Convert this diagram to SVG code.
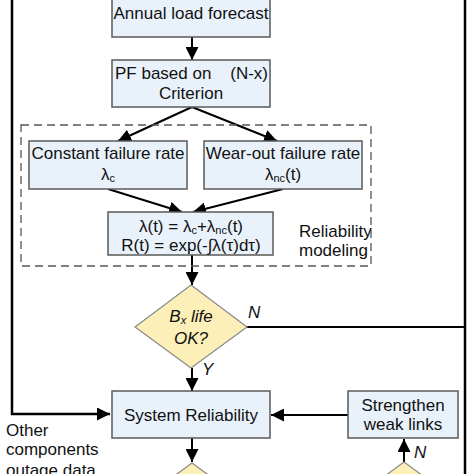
<svg xmlns="http://www.w3.org/2000/svg" width="474" height="474" viewBox="0 0 474 474">
<style>
.box{fill:#e9f2fb;stroke:#5a5a5a;stroke-width:1.5}
.dia{fill:#fcefb8;stroke:#8a8a8a;stroke-width:1.2}
.t{font-family:"Liberation Sans",Arial,sans-serif;font-size:17px;fill:#111;text-anchor:middle}
.l{font-family:"Liberation Sans",Arial,sans-serif;font-size:17px;fill:#111}
.i{font-style:italic}
.c{fill:none;stroke:#000;stroke-width:2}
.o{fill:none;stroke:#000;stroke-width:2.5}
</style>
<defs>
<marker id="ah" viewBox="0 0 10 10" refX="10" refY="5" markerWidth="13" markerHeight="13" markerUnits="userSpaceOnUse" orient="auto">
<path d="M0,0 L10,5 L0,10 z" fill="#000"/>
</marker>
</defs>
<g id="connectors">
<path class="o" d="M12,0 V414 H110" marker-end="url(#ah)"/>
<path class="o" d="M465,0 V474"/>
<path class="c" d="M247,327 H465"/>
<path class="c" d="M192,37 V60" marker-end="url(#ah)"/>
<path class="c" d="M192,107 L118,141" marker-end="url(#ah)"/>
<path class="c" d="M192,107 L277,141" marker-end="url(#ah)"/>
<path class="c" d="M108,189 L182,212" marker-end="url(#ah)"/>
<path class="c" d="M283,189 L193,212" marker-end="url(#ah)"/>
<path class="c" d="M192,255 V285" marker-end="url(#ah)"/>
<path class="c" d="M192,368 V391" marker-end="url(#ah)"/>
<path class="c" d="M348,415 H271" marker-end="url(#ah)"/>
<path class="c" d="M192,438 V462" marker-end="url(#ah)"/>
<path class="c" d="M404,462 V439" marker-end="url(#ah)"/>
</g>
<g id="reliability-modeling">
<rect x="21" y="125" width="350" height="141" fill="none" stroke="#555" stroke-width="1.3" stroke-dasharray="8,5"/>
<text class="l" x="299" y="237">Reliability</text>
<text class="l" x="299" y="256">modeling</text>
</g>
<g id="annual-load">
<rect class="box" x="112" y="-10" width="158" height="47"/>
<text class="t" x="191" y="19">Annual load forecast</text>
</g>
<g id="pf">
<rect class="box" x="112" y="60" width="158" height="47"/>
<text class="l" x="115" y="79">PF based on</text>
<text class="l" x="268" y="79" text-anchor="end">(N-x)</text>
<text class="t" x="191" y="99">Criterion</text>
</g>
<g id="constant">
<rect class="box" x="29" y="141" width="158" height="48"/>
<text class="t" x="108" y="159">Constant failure rate</text>
<text class="t" x="108" y="180">λ<tspan font-size="11" dy="2">c</tspan></text>
</g>
<g id="wearout">
<rect class="box" x="204" y="141" width="158" height="48"/>
<text class="t" x="283" y="159">Wear-out failure rate</text>
<text class="t" x="283" y="180">λ<tspan font-size="11" dy="2">nc</tspan><tspan dy="-2">(t)</tspan></text>
</g>
<g id="equation">
<rect class="box" x="108" y="212" width="165" height="43"/>
<text class="t" x="191" y="232">λ(t) = λ<tspan font-size="11" dy="2">c</tspan><tspan dy="-2">+λ</tspan><tspan font-size="11" dy="2">nc</tspan><tspan dy="-2">(t)</tspan></text>
<text class="t" x="191" y="251">R(t) = exp(-∫λ(τ)dτ)</text>
</g>
<g id="bx-life">
<polygon class="dia" points="191,285 247,327 191,368 135,327"/>
<text class="t i" x="191" y="322">B<tspan font-size="11" dy="2">x</tspan><tspan dy="-2"> life</tspan></text>
<text class="t i" x="191" y="344">OK?</text>
<text class="l i" x="202" y="375">Y</text>
<text class="l i" x="248" y="318">N</text>
</g>
<g id="system-reliability">
<rect class="box" x="112" y="391" width="158" height="47"/>
<text class="t" x="191" y="421">System Reliability</text>
</g>
<g id="strengthen">
<rect class="box" x="348" y="391" width="110" height="47"/>
<text class="t" x="403" y="411">Strengthen</text>
<text class="t" x="403" y="430">weak links</text>
</g>
<g id="other">
<text class="l" x="6" y="436">Other</text>
<text class="l" x="6" y="455">components</text>
<text class="l" x="6" y="476">outage data</text>
</g>
<g id="diamond-bottom-left">
<polygon class="dia" points="192,463 248,504 192,545 136,504"/>
</g>
<g id="diamond-bottom-right">
<polygon class="dia" points="404,462 460,503 404,544 348,503"/>
<text class="l i" x="414" y="458">N</text>
</g>
</svg>
